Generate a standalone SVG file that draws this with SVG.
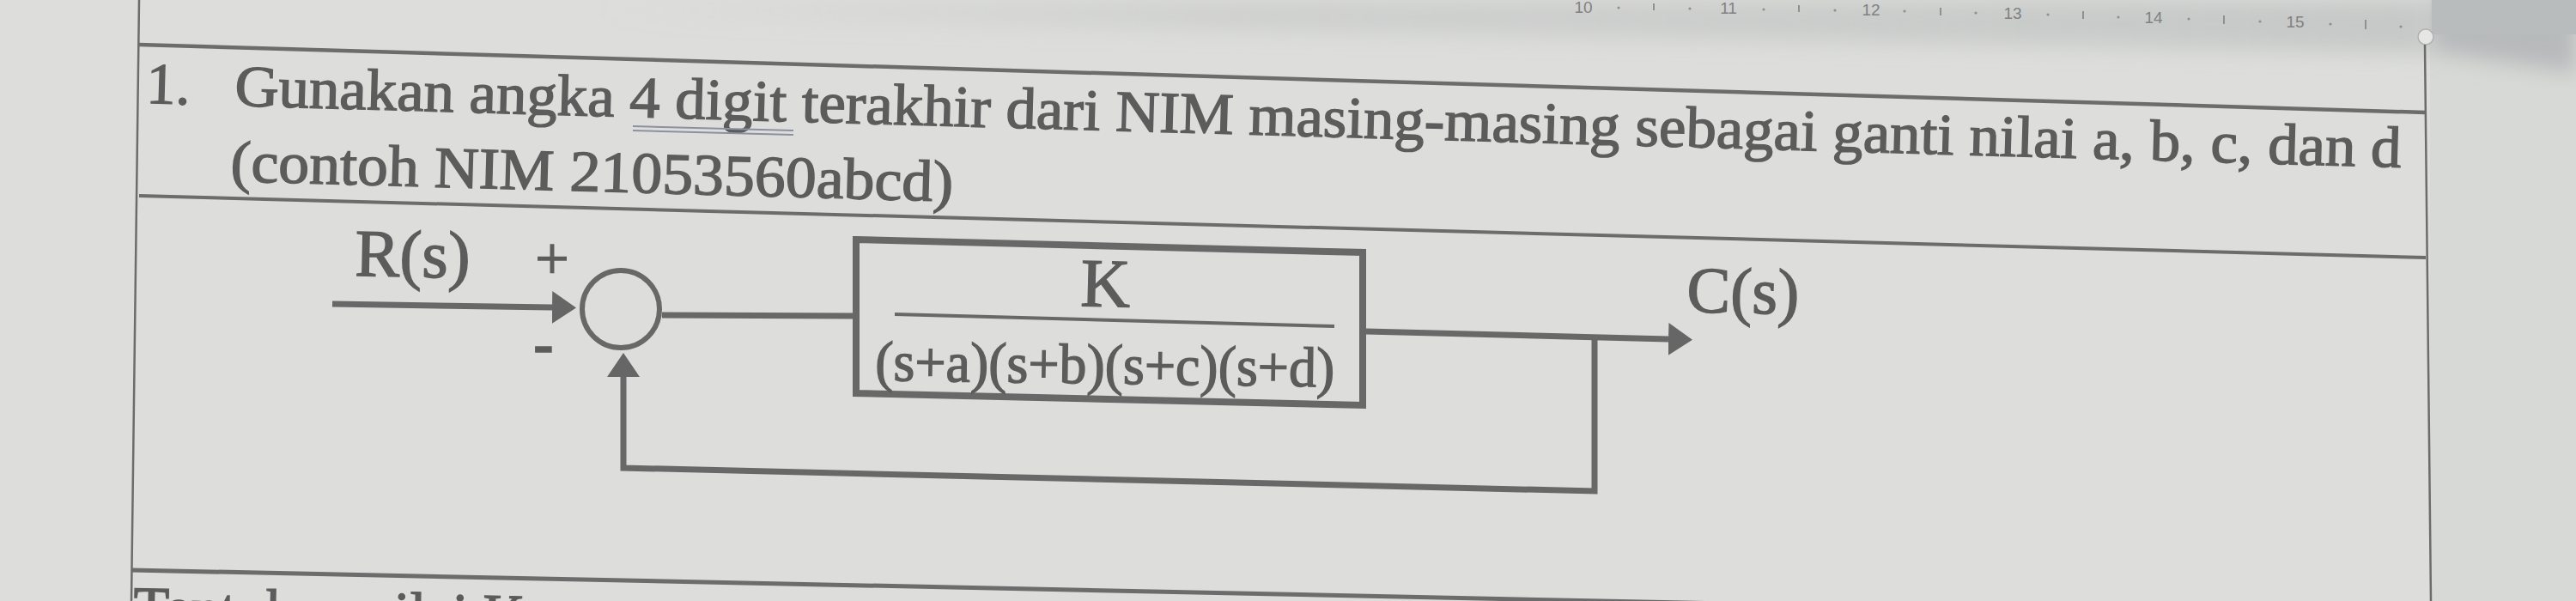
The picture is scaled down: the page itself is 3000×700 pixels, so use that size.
<svg xmlns="http://www.w3.org/2000/svg" width="3000" height="700" viewBox="0 0 3000 700">
  <defs>
    <style>
      .txt { font-family: "Liberation Serif", "Times New Roman", serif; fill: #5c5c5c; stroke: #5c5c5c; stroke-width: 1.4; }
      .rul { font-family: "Liberation Sans", Arial, sans-serif; font-size: 19px; fill: #808181; text-anchor: middle; }
      .conn { fill: none; stroke: #686868; stroke-width: 7; stroke-linejoin: miter; }
      .rule { stroke: #6c6c6c; fill: none; }
      .tick { stroke: #8f9090; stroke-width: 2; }
      .dot { fill: #8f9090; }
    </style>
    <marker id="ah" markerUnits="userSpaceOnUse" markerWidth="30" markerHeight="40" refX="0" refY="20" orient="auto" viewBox="0 0 30 40">
      <path d="M0,1 L28,20 L0,39 z" fill="#666666"/>
    </marker>
    <linearGradient id="topShadeH" x1="0" y1="0" x2="1" y2="0">
      <stop offset="0" stop-color="#b4b7b8" stop-opacity="0"/>
      <stop offset="0.35" stop-color="#b4b7b8" stop-opacity="0.35"/>
      <stop offset="1" stop-color="#b4b7b8" stop-opacity="0.55"/>
    </linearGradient>
    <filter id="soft" x="-10%" y="-100%" width="120%" height="300%">
      <feGaussianBlur stdDeviation="12"/>
    </filter>
  </defs>

  <!-- page background -->
  <rect x="0" y="0" width="3000" height="700" fill="#dddedb"/>
  <rect x="2830" y="0" width="170" height="700" fill="#d6d9d5"/>
  <!-- top shading / ruler band -->
  <polygon points="700,0 2830,0 2830,62 700,22" fill="url(#topShadeH)" filter="url(#soft)"/>
  <polygon points="2832,0 3000,0 3000,85 2832,60" fill="#b7babb" filter="url(#soft)"/>
  <rect x="2832" y="0" width="168" height="40" fill="#b9bcbd"/>
  <circle cx="2825" cy="43" r="9" fill="#e6e7e5" stroke="#b0b2b2" stroke-width="1.5"/>

  <!-- ruler numbers and ticks -->
  <g id="ruler">
    <text class="rul" x="1844" y="15">10</text>
    <text class="rul" x="2013" y="16">11</text>
    <text class="rul" x="2179" y="18">12</text>
    <text class="rul" x="2344" y="22">13</text>
    <text class="rul" x="2508" y="27">14</text>
    <text class="rul" x="2673" y="32">15</text>
    <line class="tick" x1="1926" y1="4" x2="1926" y2="12"/>
    <line class="tick" x1="2095" y1="6" x2="2095" y2="14"/>
    <line class="tick" x1="2260" y1="9" x2="2260" y2="18"/>
    <line class="tick" x1="2426" y1="13" x2="2426" y2="22"/>
    <line class="tick" x1="2590" y1="18" x2="2590" y2="28"/>
    <line class="tick" x1="2755" y1="23" x2="2755" y2="34"/>
    <circle class="dot" cx="1885" cy="9" r="1.6"/>
    <circle class="dot" cx="1968" cy="10" r="1.6"/>
    <circle class="dot" cx="2054" cy="11" r="1.6"/>
    <circle class="dot" cx="2137" cy="12" r="1.6"/>
    <circle class="dot" cx="2218" cy="13" r="1.6"/>
    <circle class="dot" cx="2301" cy="15" r="1.6"/>
    <circle class="dot" cx="2385" cy="17" r="1.6"/>
    <circle class="dot" cx="2467" cy="20" r="1.6"/>
    <circle class="dot" cx="2549" cy="22" r="1.6"/>
    <circle class="dot" cx="2632" cy="25" r="1.6"/>
    <circle class="dot" cx="2714" cy="28" r="1.6"/>
    <circle class="dot" cx="2796" cy="31" r="1.6"/>
  </g>

  <!-- page rules / table borders -->
  <g id="page-lines">
    <line class="rule" x1="162" y1="0" x2="153" y2="700" stroke-width="2.5"/>
    <line class="rule" x1="2824" y1="52" x2="2831" y2="700" stroke-width="2.5"/>
    <line class="rule" x1="162" y1="52" x2="2825" y2="131" stroke-width="4.5"/>
    <line class="rule" x1="162" y1="228" x2="2825" y2="300" stroke-width="4"/>
    <line class="rule" x1="153" y1="664" x2="2010" y2="703" stroke-width="5"/>
  </g>

  <!-- header text -->
  <g id="header">
    <text class="txt" x="170" y="120" font-size="68" transform="rotate(1.63 170 120)">1.</text>
    <text class="txt" x="273" y="123" font-size="68" textLength="2524" lengthAdjust="spacingAndGlyphs" transform="rotate(1.63 273 123)">Gunakan angka 4 digit terakhir dari NIM masing-masing sebagai ganti nilai a, b, c, dan d</text>
    <line x1="737" y1="147" x2="924" y2="152" stroke="#8c90a0" stroke-width="2"/>
    <line x1="737" y1="152" x2="924" y2="157" stroke="#8c90a0" stroke-width="2"/>
    <text class="txt" x="268" y="211" font-size="68" textLength="842" lengthAdjust="spacingAndGlyphs" transform="rotate(1.6 268 211)">(contoh NIM 21053560abcd)</text>
    <text class="txt" x="155" y="730" font-size="68" transform="rotate(1.2 155 730)">Tentukan nilai K</text>
  </g>

  <!-- connectors -->
  <g id="connectors">
    <path class="conn" d="M387,354 L643,358" marker-end="url(#ah)"/>
    <path class="conn" d="M771,367 L994,368"/>
    <path class="conn" d="M1591,386 L1943,395" marker-end="url(#ah)"/>
    <path class="conn" d="M1857,393 L1857,572 L726,545 L726,439" marker-end="url(#ah)"/>
  </g>

  <!-- input label -->
  <g id="input-label">
    <text class="txt" x="413" y="321" font-size="78" transform="rotate(1.2 413 321)">R(s)</text>
    <text class="txt" x="643" y="325" font-size="70" text-anchor="middle">+</text>
    <text class="txt" x="633" y="424" font-size="70" font-weight="bold" text-anchor="middle">-</text>
  </g>

  <!-- summing junction -->
  <g id="sum">
    <circle cx="723" cy="360" r="45" fill="none" stroke="#686868" stroke-width="6"/>
  </g>

  <!-- plant block -->
  <g id="plant">
    <polygon points="997,279 1587,294 1587,472 997,458" fill="none" stroke="#686868" stroke-width="8" stroke-linejoin="miter"/>
    <line x1="1042" y1="366" x2="1554" y2="380" stroke="#686868" stroke-width="4"/>
    <text class="txt" x="1287" y="357" font-size="80" text-anchor="middle" transform="rotate(1.4 1287 357)">K</text>
    <text class="txt" x="1019" y="443" font-size="66" textLength="535" lengthAdjust="spacingAndGlyphs" transform="rotate(0.8 1019 443)">(s+a)(s+b)(s+c)(s+d)</text>
  </g>

  <!-- output label -->
  <g id="output-label">
    <text class="txt" x="1964" y="363" font-size="76" transform="rotate(1.4 1964 363)">C(s)</text>
  </g>
</svg>
